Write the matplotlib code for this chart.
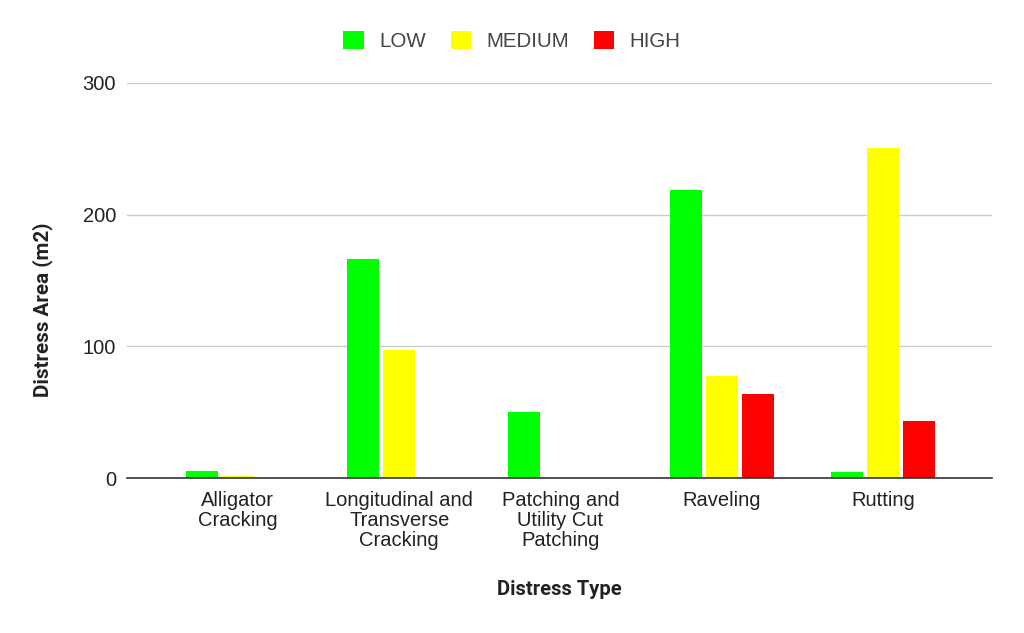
import matplotlib.pyplot as plt
import numpy as np

plt.rcParams['font.family'] = ['Liberation Sans', 'DejaVu Sans']

categories = ['Alligator\nCracking', 'Longitudinal and\nTransverse\nCracking',
              'Patching and\nUtility Cut\nPatching', 'Raveling', 'Rutting']
low = [5.3, 166, 50, 219, 4.3]
medium = [1.5, 97, 0, 77.7, 250.4]
high = [0, 0, 0, 63.8, 43.3]

series = [('LOW', low, '#00ff00'), ('MEDIUM', medium, '#ffff00'), ('HIGH', high, '#ff0000')]

fig = plt.figure(figsize=(10.24, 6.33), dpi=100)
# axes from x=127..992 px, y=83..478 px
ax = fig.add_axes([127 / 1024, 155 / 633, 865 / 1024, 395 / 633])

x = np.arange(len(categories))
w = 0.198
step = 0.2233
for i, (name, vals, col) in enumerate(series):
    ax.bar(x + (i - 1) * step, vals, width=w, color=col, label=name, zorder=3)

ax.set_xlim(-0.688, 4.676)
ax.set_ylim(0, 300)
ax.set_yticks([0, 100, 200, 300])
ax.set_xticks(x)
ax.set_xticklabels(categories, fontsize=14.5, color='#222222', linespacing=1.1)
ax.tick_params(axis='y', labelsize=14.5, colors='#222222', length=0, pad=8)
ax.tick_params(axis='x', length=0, pad=9)
ax.grid(axis='y', color='#cccccc', linewidth=1, zorder=0)
for s in ['top', 'right', 'left']:
    ax.spines[s].set_visible(False)
ax.spines['bottom'].set_color('#333333')
ax.spines['bottom'].set_linewidth(1.2)
ax.spines['bottom'].set_zorder(4)

ax.set_ylabel('Distress Area (m2)', fontsize=14.9, fontweight='bold', color='#222222',
              family=['Roboto', 'DejaVu Sans'], va='center')
ax.yaxis.set_label_coords(-0.098, 0.425)
ax.set_xlabel('Distress Type', fontsize=14.5, fontweight='bold', color='#222222',
              family=['Roboto', 'DejaVu Sans'], va='center')
ax.xaxis.set_label_coords(0.5, -0.2835)

fig.legend(loc='center', bbox_to_anchor=(0.5, 1 - 41 / 633), ncol=3, frameon=False,
           fontsize=14.8, handlelength=1.0, handleheight=1.0, columnspacing=1.2,
           handletextpad=0.75, labelcolor='#444444')

fig.savefig('out.png', dpi=100, facecolor='white')
